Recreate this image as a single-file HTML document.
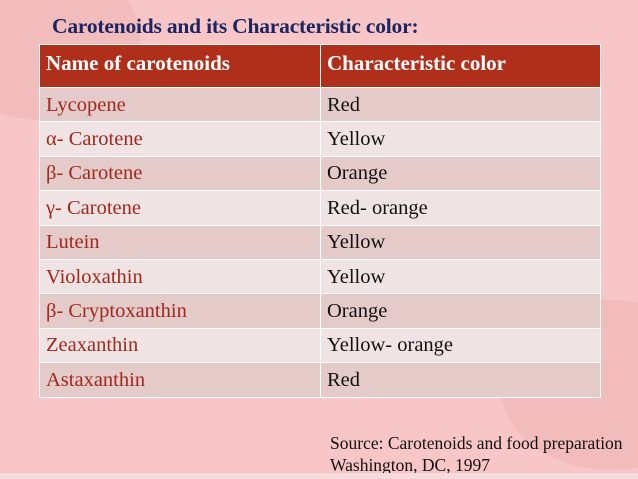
<!DOCTYPE html>
<html><head><meta charset="utf-8"><style>
html,body{margin:0;width:638px;height:479px;overflow:hidden}
body{background:#f8c6c6;font-family:"Liberation Serif",serif;position:relative}
#wrap{position:absolute;left:0;top:0;width:638px;height:479px;overflow:hidden}
.blob{position:absolute;border-radius:50%;background:#f3bcbc}
h1{position:absolute;left:52px;top:14px;margin:0;font-size:21.5px;font-weight:bold;color:#1b2560;letter-spacing:-0.2px}
table{position:absolute;left:39px;top:44px;width:561px;border-collapse:collapse;table-layout:fixed}
td,th{border:1px solid #fff;padding:0 0 0 6px;font-size:20.5px;text-align:left;height:33.4px;line-height:22px;white-space:nowrap}
th{background:#b02f1a;color:#fff;height:43px;font-size:21px;font-weight:bold;vertical-align:top;padding-top:7px;box-sizing:border-box}
tr.o td{background:#e5caca}tr.e td{background:#f0e3e3}
td.n{color:#a0291c}td.c{color:#111}
.src{position:absolute;left:330px;top:432px;font-size:17.5px;line-height:22px;color:#111;white-space:nowrap}
.strip{position:absolute;left:0;top:473px;width:638px;height:6px;background:#f6dcdc}
</style></head><body>
<div id="wrap">
<div class="blob" style="left:-60px;top:-40px;width:200px;height:160px"></div>
<div class="blob" style="left:500px;top:300px;width:220px;height:170px"></div>
<h1>Carotenoids and its Characteristic color:</h1>
<table>
<colgroup><col style="width:281px"><col style="width:280px"></colgroup>
<tr><th>Name of carotenoids</th><th>Characteristic color</th></tr>
<tr class="o"><td class="n">Lycopene</td><td class="c">Red</td></tr>
<tr class="e"><td class="n">α- Carotene</td><td class="c">Yellow</td></tr>
<tr class="o"><td class="n">β- Carotene</td><td class="c">Orange</td></tr>
<tr class="e"><td class="n">γ- Carotene</td><td class="c">Red- orange</td></tr>
<tr class="o"><td class="n">Lutein</td><td class="c">Yellow</td></tr>
<tr class="e"><td class="n">Violoxathin</td><td class="c">Yellow</td></tr>
<tr class="o"><td class="n">β- Cryptoxanthin</td><td class="c">Orange</td></tr>
<tr class="e"><td class="n">Zeaxanthin</td><td class="c">Yellow- orange</td></tr>
<tr class="o"><td class="n">Astaxanthin</td><td class="c">Red</td></tr>
</table>
<div class="src">Source: Carotenoids and food preparation<br>Washington, DC, 1997</div>
<div class="strip"></div>
</div>
</body></html>
